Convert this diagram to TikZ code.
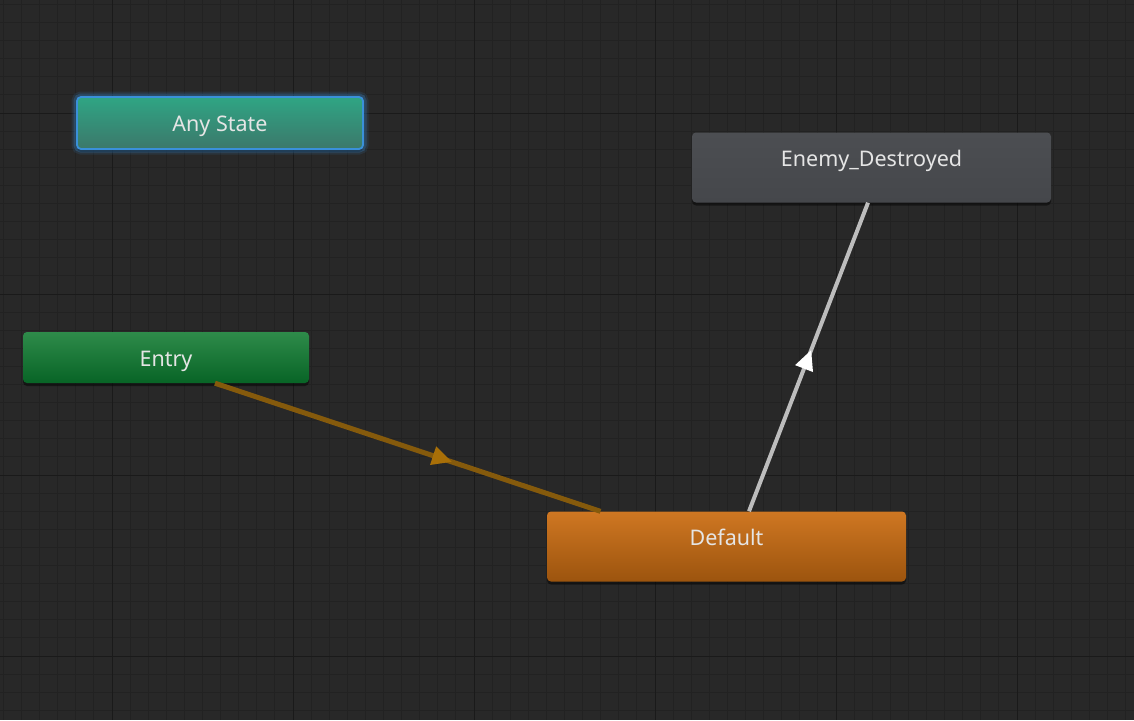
\documentclass[tikz,border=0pt]{standalone}
\usepackage{fontspec}
\setmainfont{Noto Sans}
\usetikzlibrary{positioning, arrows.meta, decorations.markings, shadows}

\definecolor{bgdark}{HTML}{282828}
\definecolor{minorline}{HTML}{222222}
\definecolor{majorline}{HTML}{1A1A1A}
\definecolor{anytop}{HTML}{2FA584}
\definecolor{anybot}{HTML}{3C786A}
\definecolor{anyblue}{HTML}{3A90DA}
\definecolor{entrytop}{HTML}{2E8B4A}
\definecolor{entrybot}{HTML}{086426}
\definecolor{greytop}{HTML}{4C4E52}
\definecolor{greybot}{HTML}{45474B}
\definecolor{deftop}{HTML}{CF7722}
\definecolor{defbot}{HTML}{9C540E}
\definecolor{entryline}{HTML}{855A0C}
\definecolor{entrytip}{HTML}{A86F08}
\definecolor{stateline}{HTML}{BDBDBD}

\tikzset{
  animstate/.style={rectangle, rounded corners=4pt, text=white!90!black,
    font=\fontsize{21.5}{24}\selectfont, inner sep=0pt,
    drop shadow={shadow xshift=0pt, shadow yshift=-3pt, opacity=0.45, fill=black}},
  shortstate/.style={animstate, minimum width=286pt, minimum height=52pt, text height=25pt, text depth=8pt},
  tallstate/.style={animstate, minimum width=359pt, text height=34pt, text depth=36pt},
  transition/.style={line width=#1, postaction={decorate}},
}

\begin{document}
\begin{tikzpicture}[x=1pt, y=-1pt]
  \useasboundingbox (0,0) rectangle (1134,720);
  \fill[bgdark] (0,0) rectangle (1134,720);

  % grid
  \foreach \i in {-6,...,56}
    \draw[minorline, line width=1pt] ({112+18.1*\i},0) -- ({112+18.1*\i},720);
  \foreach \i in {-6,...,34}
    \draw[minorline, line width=1pt] (0,{113+18.1*\i}) -- (1134,{113+18.1*\i});
  \foreach \i in {0,...,5}
    \draw[majorline, line width=1pt] ({112+181*\i},0) -- ({112+181*\i},720);
  \foreach \i in {0,...,3}
    \draw[majorline, line width=1pt] (0,{113+181*\i}) -- (1134,{113+181*\i});

  % states
  \node[shortstate, top color=anytop, bottom color=anybot,
    preaction={draw=anyblue, line width=11pt, opacity=0.12},
    preaction={draw=anyblue, line width=7pt, opacity=0.25},
    draw=anyblue, line width=1.8pt] (anystate) at (220,123) {Any State};
  \node[shortstate, minimum height=51pt, top color=entrytop, bottom color=entrybot] (entry) at (166,357.5) {Entry};
  \node[tallstate, top color=greytop, bottom color=greybot] (destroyed) at (871.5,167.5) {Enemy\_Destroyed};
  \node[tallstate, top color=deftop, bottom color=defbot] (default) at (726.5,546.5) {Default};

  % transitions
  \draw[entryline, transition=5pt,
    decoration={markings, mark=at position 0.615 with {\arrow[entrytip]{Triangle[length=20pt, width=18pt]}}}]
    ([xshift=49pt]entry.south) -- ([xshift=-126pt]default.north);
  \draw[stateline, transition=4pt,
    decoration={markings, mark=at position 0.523 with {\arrow[white]{Triangle[length=20pt, width=18pt]}}}]
    ([xshift=22.5pt]default.north) -- ([xshift=-3.5pt]destroyed.south);
\end{tikzpicture}
\end{document}
